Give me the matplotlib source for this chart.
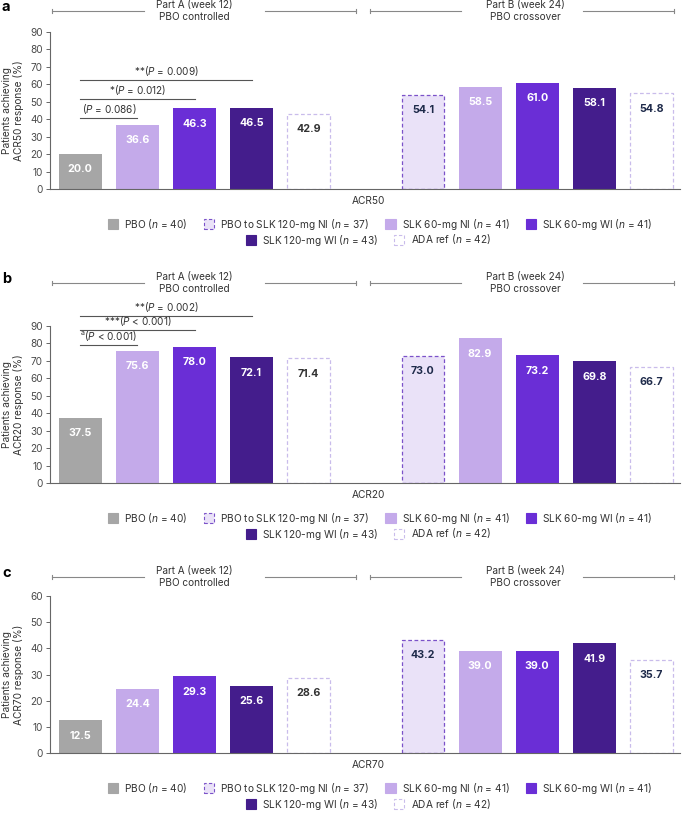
import numpy as np
import matplotlib.pyplot as plt
from matplotlib.patches import Patch
import matplotlib.transforms as mtransforms

plt.rcParams['font.family'] = ['Inter', 'DejaVu Sans']
plt.rcParams['mathtext.fontset'] = 'custom'
plt.rcParams['mathtext.rm'] = 'Inter'
plt.rcParams['mathtext.it'] = 'Inter:italic'

# Daten
groups_a = ['PBO', 'SLK 60-mg NI', 'SLK 60-mg WI', 'SLK 120-mg WI', 'ADA ref']
groups_b = ['PBO to SLK 120-mg NI', 'SLK 60-mg NI', 'SLK 60-mg WI', 'SLK 120-mg WI', 'ADA ref']

acr50_a = [20.0, 36.6, 46.3, 46.5, 42.9]
acr50_b = [54.1, 58.5, 61.0, 58.1, 54.8]
acr20_a = [37.5, 75.6, 78.0, 72.1, 71.4]
acr20_b = [73.0, 82.9, 73.2, 69.8, 66.7]
acr70_a = [12.5, 24.4, 29.3, 25.6, 28.6]
acr70_b = [43.2, 39.0, 39.0, 41.9, 35.7]

legend_row1 = ['PBO', 'PBO to SLK 120-mg NI', 'SLK 60-mg NI', 'SLK 60-mg WI']
legend_row2 = ['SLK 120-mg WI', 'ADA ref']
group_n = {'PBO': 40, 'PBO to SLK 120-mg NI': 37, 'SLK 60-mg NI': 41,
           'SLK 60-mg WI': 41, 'SLK 120-mg WI': 43, 'ADA ref': 42}

p_acr50 = ['($P$ = 0.086)', '*($P$ = 0.012)', '**($P$ = 0.009)']
p_acr20 = ['$^{\\rm a}$($P$ < 0.001)', '***($P$ < 0.001)', '**($P$ = 0.002)']

# Stile
styles = {
    'PBO': dict(fc='#A6A6A6', ec='none', ls='-', tc='white'),
    'PBO to SLK 120-mg NI': dict(fc='#EAE2F8', ec='#7B52C9', ls=(0, (3, 2)), tc='#1E2A4A'),
    'SLK 60-mg NI': dict(fc='#C4AAEA', ec='none', ls='-', tc='white'),
    'SLK 60-mg WI': dict(fc='#6A2ED6', ec='none', ls='-', tc='white'),
    'SLK 120-mg WI': dict(fc='#441D8C', ec='none', ls='-', tc='white'),
    'ADA ref': dict(fc='white', ec='#C9BCEB', ls=(0, (3, 2)), tc='#333333'),
}

W, H = 685, 813
fig = plt.figure(figsize=(W / 100, H / 100), dpi=100)

x_a = np.arange(5)
x_b = np.arange(5) + 6
grey = '#4a4a4a'
line_grey = '#888888'
fs = 7.2


def header(ax, x0, x1, gap0, gap1, xt, yfrac, text):
    tr = mtransforms.blended_transform_factory(ax.transData, ax.transAxes)
    for a, b in [(x0, gap0), (gap1, x1)]:
        ax.plot([a, b], [yfrac, yfrac], color=line_grey, lw=0.8, transform=tr, clip_on=False)
    for xe in [x0, x1]:
        ax.plot([xe, xe], [yfrac - 0.012, yfrac + 0.012], color=line_grey, lw=0.8,
                transform=tr, clip_on=False)
    ax.text(xt, yfrac, text, transform=tr, ha='center', va='center', fontsize=fs,
            color='#333333', linespacing=1.2)


def panel(bottom_px, vals_a, vals_b, ymax, name, letter, head_frac, pvals=None, pys=None):
    top_px = bottom_px - 157
    ax = fig.add_axes([50 / W, 1 - bottom_px / H, 630 / W, 157 / H])
    for xs, vals, groups, part in [(x_a, vals_a, groups_a, 'A'), (x_b, vals_b, groups_b, 'B')]:
        for x, v, g in zip(xs, vals, groups):
            st = styles[g]
            ax.bar(x, v, width=0.75, color=st['fc'], edgecolor=st['ec'], linestyle=st['ls'],
                   linewidth=0.9 if st['ec'] != 'none' else 0)
            tc = st['tc']
            if g == 'ADA ref' and part == 'B':
                tc = '#1E2A4A'
            ax.annotate(f'{v:.1f}', (x, v), xytext=(0, -11), textcoords='offset points',
                        ha='center', va='center', fontsize=7.7, fontweight='bold', color=tc)

    ax.set_xlim(-0.53, 10.5)
    ax.set_ylim(0, ymax)
    ax.set_yticks(np.arange(0, ymax + 1, 10))
    ax.set_xticks([])
    for s in ['top', 'right']:
        ax.spines[s].set_visible(False)
    for s in ['left', 'bottom']:
        ax.spines[s].set_color('#666666')
        ax.spines[s].set_linewidth(0.8)
    ax.tick_params(axis='y', length=3, width=0.7, color='#666666', labelsize=fs,
                   labelcolor=grey, pad=2)

    ax.text(-0.059, 0.5, f'Patients achieving\n{name} response (%)', transform=ax.transAxes,
            rotation=90, ha='center', va='center', fontsize=7.3, color='#333333',
            linespacing=1.15)
    fig.text(368 / W, 1 - (bottom_px + 12) / H, name, ha='center', va='center',
             fontsize=7.3, color='#333333')

    # Panelbuchstabe knapp oberhalb der Kopfzeile
    head_px = top_px - (head_frac - 1) * 157
    fig.text(2 / W, 1 - (head_px - 4) / H, letter, ha='left', va='center',
             fontsize=10.5, fontweight='bold')

    header(ax, -0.49, 4.82, 1.12, 3.24, 2.0, head_frac, 'Part A (week 12)\nPBO controlled')
    header(ax, 5.08, 10.39, 6.67, 8.81, 7.8, head_frac, 'Part B (week 24)\nPBO crossover')

    if pvals is not None:
        for i, (txt, y) in enumerate(zip(pvals, pys)):
            ax.plot([0, i + 1], [y, y], color='#555555', lw=0.8, clip_on=False)
            ax.annotate(txt, ((i + 1) / 2, y), xytext=(0, 1.2), textcoords='offset points',
                        ha='center', va='bottom', fontsize=fs, color='#333333',
                        annotation_clip=False)

    # Legende in zwei zentrierten Zeilen
    for row, xc, off in [(legend_row1, 380, 35), (legend_row2, 368, 51)]:
        handles = []
        for g in row:
            st = styles[g]
            handles.append(Patch(facecolor=st['fc'],
                                 edgecolor=st['ec'] if st['ec'] != 'none' else st['fc'],
                                 linestyle=st['ls'], linewidth=0.8,
                                 label=f'{g} ($n$ = {group_n[g]})'))
        fig.legend(handles=handles, loc='center', ncol=len(row),
                   bbox_to_anchor=(xc / W, 1 - (bottom_px + off) / H),
                   frameon=False, fontsize=7.3, handlelength=1.0, handleheight=1.0,
                   handletextpad=0.6, columnspacing=1.6, borderpad=0, labelcolor='#333333')
    return ax


panel(189, acr50_a, acr50_b, 90, 'ACR50', 'a', 1.134, p_acr50, [40.7, 51.6, 62.5])
panel(483, acr20_a, acr20_b, 90, 'ACR20', 'b', 1.274, p_acr20, [79.1, 87.7, 95.8])
panel(753, acr70_a, acr70_b, 60, 'ACR70', 'c', 1.121)

plt.savefig('out.png', dpi=100)
